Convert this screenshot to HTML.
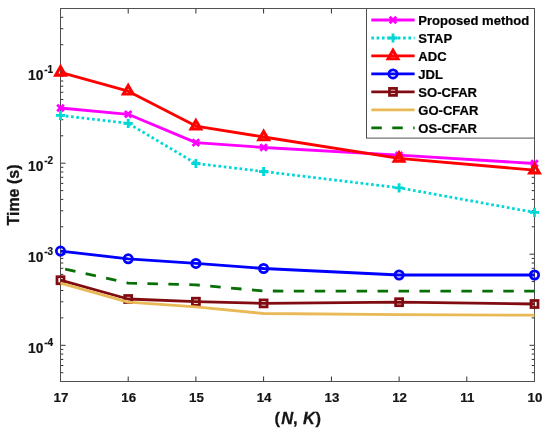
<!DOCTYPE html>
<html><head><meta charset="utf-8"><title>Time vs (N, K)</title>
<style>html,body{margin:0;padding:0;background:#fff}svg{display:block}</style></head>
<body>
<svg width="550" height="435" viewBox="0 0 550 435" font-family="'Liberation Sans', sans-serif" font-weight="bold" fill="#141414" stroke="#141414" stroke-width="0">
<rect width="550" height="435" fill="#fff"/>
<path d="M534.5 381.5v-5M534.5 8.5v5M466.8 381.5v-5M466.8 8.5v5M399.1 381.5v-5M399.1 8.5v5M331.4 381.5v-5M331.4 8.5v5M263.6 381.5v-5M263.6 8.5v5M195.9 381.5v-5M195.9 8.5v5M128.2 381.5v-5M128.2 8.5v5M60.5 381.5v-5M60.5 8.5v5M60.5 345.3h5M534.5 345.3h-5M60.5 254.2h5M534.5 254.2h-5M60.5 163.2h5M534.5 163.2h-5M60.5 72.1h5M534.5 72.1h-5M60.5 372.7h2.8M534.5 372.7h-2.8M60.5 365.5h2.8M534.5 365.5h-2.8M60.5 359.4h2.8M534.5 359.4h-2.8M60.5 354.1h2.8M534.5 354.1h-2.8M60.5 349.4h2.8M534.5 349.4h-2.8M60.5 317.9h2.8M534.5 317.9h-2.8M60.5 301.8h2.8M534.5 301.8h-2.8M60.5 290.5h2.8M534.5 290.5h-2.8M60.5 281.6h2.8M534.5 281.6h-2.8M60.5 274.4h2.8M534.5 274.4h-2.8M60.5 268.3h2.8M534.5 268.3h-2.8M60.5 263.0h2.8M534.5 263.0h-2.8M60.5 258.4h2.8M534.5 258.4h-2.8M60.5 226.8h2.8M534.5 226.8h-2.8M60.5 210.8h2.8M534.5 210.8h-2.8M60.5 199.4h2.8M534.5 199.4h-2.8M60.5 190.6h2.8M534.5 190.6h-2.8M60.5 183.4h2.8M534.5 183.4h-2.8M60.5 177.3h2.8M534.5 177.3h-2.8M60.5 172.0h2.8M534.5 172.0h-2.8M60.5 167.3h2.8M534.5 167.3h-2.8M60.5 135.8h2.8M534.5 135.8h-2.8M60.5 119.7h2.8M534.5 119.7h-2.8M60.5 108.4h2.8M534.5 108.4h-2.8M60.5 99.5h2.8M534.5 99.5h-2.8M60.5 92.3h2.8M534.5 92.3h-2.8M60.5 86.2h2.8M534.5 86.2h-2.8M60.5 81.0h2.8M534.5 81.0h-2.8M60.5 76.3h2.8M534.5 76.3h-2.8M60.5 44.7h2.8M534.5 44.7h-2.8M60.5 28.7h2.8M534.5 28.7h-2.8M60.5 17.3h2.8M534.5 17.3h-2.8" stroke="#303030" stroke-width="1" fill="none"/>
<rect x="60.5" y="8.5" width="474.0" height="373.0" fill="none" stroke="#505050" stroke-width="1"/>
<polyline points="60.5,108.0 128.2,114.3 195.9,142.6 263.6,147.5 399.1,155.2 534.5,163.5" fill="none" stroke="#ff00ff" stroke-width="2.8" stroke-linejoin="round"/>
<path d="M57.2 104.7L63.8 111.3M57.2 111.3L63.8 104.7" stroke="#ff00ff" stroke-width="2.8" fill="none"/>
<path d="M124.9 111.0L131.5 117.6M124.9 117.6L131.5 111.0" stroke="#ff00ff" stroke-width="2.8" fill="none"/>
<path d="M192.6 139.3L199.2 145.9M192.6 145.9L199.2 139.3" stroke="#ff00ff" stroke-width="2.8" fill="none"/>
<path d="M260.3 144.2L266.9 150.8M260.3 150.8L266.9 144.2" stroke="#ff00ff" stroke-width="2.8" fill="none"/>
<path d="M395.8 151.9L402.4 158.5M395.8 158.5L402.4 151.9" stroke="#ff00ff" stroke-width="2.8" fill="none"/>
<path d="M531.2 160.2L537.8 166.8M531.2 166.8L537.8 160.2" stroke="#ff00ff" stroke-width="2.8" fill="none"/>
<polyline points="60.5,115.4 128.2,123.3 195.9,163.5 263.6,171.5 399.1,187.8 534.5,212.4" fill="none" stroke="#00d8d8" stroke-width="2.8" stroke-linejoin="round" stroke-dasharray="2.65 2.65"/>
<path d="M55.9 115.4H65.1M60.5 110.8V120.0" stroke="#00d8d8" stroke-width="2.8" fill="none"/>
<path d="M123.6 123.3H132.8M128.2 118.7V127.9" stroke="#00d8d8" stroke-width="2.8" fill="none"/>
<path d="M191.3 163.5H200.5M195.9 158.9V168.1" stroke="#00d8d8" stroke-width="2.8" fill="none"/>
<path d="M259.0 171.5H268.2M263.6 166.9V176.1" stroke="#00d8d8" stroke-width="2.8" fill="none"/>
<path d="M394.5 187.8H403.7M399.1 183.2V192.4" stroke="#00d8d8" stroke-width="2.8" fill="none"/>
<path d="M529.9 212.4H539.1M534.5 207.8V217.0" stroke="#00d8d8" stroke-width="2.8" fill="none"/>
<polyline points="60.5,72.3 128.2,91.2 195.9,126.1 263.6,137.0 399.1,158.4 534.5,170.1" fill="none" stroke="#ff0000" stroke-width="2.8" stroke-linejoin="round"/>
<polygon points="60.5,66.7 55.7,75.1 65.3,75.1" fill="none" stroke="#ff0000" stroke-width="3.1"/>
<polygon points="128.2,85.6 123.4,94.0 133.1,94.0" fill="none" stroke="#ff0000" stroke-width="3.1"/>
<polygon points="195.9,120.5 191.1,128.9 200.8,128.9" fill="none" stroke="#ff0000" stroke-width="3.1"/>
<polygon points="263.6,131.4 258.8,139.8 268.5,139.8" fill="none" stroke="#ff0000" stroke-width="3.1"/>
<polygon points="399.1,152.8 394.2,161.2 403.9,161.2" fill="none" stroke="#ff0000" stroke-width="3.1"/>
<polygon points="534.5,164.5 529.7,172.9 539.3,172.9" fill="none" stroke="#ff0000" stroke-width="3.1"/>
<polyline points="60.5,251.1 128.2,258.8 195.9,263.4 263.6,268.5 399.1,275.0 534.5,275.0" fill="none" stroke="#0000ff" stroke-width="2.8" stroke-linejoin="round"/>
<circle cx="60.5" cy="251.1" r="4.15" fill="none" stroke="#0000ff" stroke-width="2.75"/>
<circle cx="128.2" cy="258.8" r="4.15" fill="none" stroke="#0000ff" stroke-width="2.75"/>
<circle cx="195.9" cy="263.4" r="4.15" fill="none" stroke="#0000ff" stroke-width="2.75"/>
<circle cx="263.6" cy="268.5" r="4.15" fill="none" stroke="#0000ff" stroke-width="2.75"/>
<circle cx="399.1" cy="275.0" r="4.15" fill="none" stroke="#0000ff" stroke-width="2.75"/>
<circle cx="534.5" cy="275.0" r="4.15" fill="none" stroke="#0000ff" stroke-width="2.75"/>
<polyline points="60.5,280.2 128.2,299.0 195.9,301.7 263.6,303.4 399.1,302.2 534.5,304.0" fill="none" stroke="#800c12" stroke-width="2.8" stroke-linejoin="round"/>
<rect x="57.0" y="276.7" width="7" height="7" fill="none" stroke="#800c12" stroke-width="2.75"/>
<rect x="124.7" y="295.5" width="7" height="7" fill="none" stroke="#800c12" stroke-width="2.75"/>
<rect x="192.4" y="298.2" width="7" height="7" fill="none" stroke="#800c12" stroke-width="2.75"/>
<rect x="260.1" y="299.9" width="7" height="7" fill="none" stroke="#800c12" stroke-width="2.75"/>
<rect x="395.6" y="298.7" width="7" height="7" fill="none" stroke="#800c12" stroke-width="2.75"/>
<rect x="531.0" y="300.5" width="7" height="7" fill="none" stroke="#800c12" stroke-width="2.75"/>
<polyline points="60.5,283.2 128.2,302.2 195.9,306.9 263.6,313.5 399.1,314.7 534.5,315.2" fill="none" stroke="#e8b955" stroke-width="2.8" stroke-linejoin="round"/>
<polyline points="60.5,268.0 128.2,283.1 195.9,284.9 263.6,291.0 399.1,291.2 534.5,291.2" fill="none" stroke="#067006" stroke-width="2.8" stroke-linejoin="round" stroke-dasharray="10.5 10.45" stroke-dashoffset="16.15"/>
<text x="535.0" y="401.6" font-size="13.3" text-anchor="middle" stroke-width="0.2">10</text>
<text x="467.3" y="401.6" font-size="13.3" text-anchor="middle" stroke-width="0.2">11</text>
<text x="399.6" y="401.6" font-size="13.3" text-anchor="middle" stroke-width="0.2">12</text>
<text x="331.9" y="401.6" font-size="13.3" text-anchor="middle" stroke-width="0.2">13</text>
<text x="264.1" y="401.6" font-size="13.3" text-anchor="middle" stroke-width="0.2">14</text>
<text x="196.4" y="401.6" font-size="13.3" text-anchor="middle" stroke-width="0.2">15</text>
<text x="128.7" y="401.6" font-size="13.3" text-anchor="middle" stroke-width="0.2">16</text>
<text x="61.0" y="401.6" font-size="13.3" text-anchor="middle" stroke-width="0.2">17</text>
<text x="28.1" y="353.0" font-size="13.8" stroke-width="0.2">10<tspan font-size="10" dx="0.7" dy="-6.6">-4</tspan></text>
<text x="28.1" y="261.9" font-size="13.8" stroke-width="0.2">10<tspan font-size="10" dx="0.7" dy="-6.6">-3</tspan></text>
<text x="28.1" y="170.9" font-size="13.8" stroke-width="0.2">10<tspan font-size="10" dx="0.7" dy="-6.6">-2</tspan></text>
<text x="28.1" y="79.8" font-size="13.8" stroke-width="0.2">10<tspan font-size="10" dx="0.7" dy="-6.6">-1</tspan></text>
<text x="274.4" y="424" font-size="16.5" stroke="#1a1a1a" stroke-width="0.3">(<tspan font-style="italic" dx="1.3">N</tspan>, <tspan font-style="italic" dx="0.6">K</tspan><tspan dx="0.6">)</tspan></text>
<text transform="translate(18.9,195) rotate(-90)" font-size="16" text-anchor="middle" stroke="#1a1a1a" stroke-width="0.3">Time (s)</text>
<rect x="366.5" y="8.5" width="168.0" height="129.6" fill="#fff" stroke="#505050" stroke-width="1"/>
<path d="M371.3 20.0H414.6" stroke="#ff00ff" stroke-width="2.8" fill="none"/>
<path d="M389.7 16.7L396.3 23.3M389.7 23.3L396.3 16.7" stroke="#ff00ff" stroke-width="2.8" fill="none"/>
<text x="418.3" y="25.0" font-size="13.05" fill="#000" stroke="#000" stroke-width="0.2">Proposed method</text>
<path d="M371.3 38.0H414.6" stroke="#00d8d8" stroke-width="2.8" fill="none" stroke-dasharray="2.65 2.65"/>
<path d="M388.4 38.0H397.6M393.0 33.4V42.6" stroke="#00d8d8" stroke-width="2.8" fill="none"/>
<text x="418.3" y="43.0" font-size="13.05" fill="#000" stroke="#000" stroke-width="0.2">STAP</text>
<path d="M371.3 55.9H414.6" stroke="#ff0000" stroke-width="2.8" fill="none"/>
<polygon points="393.0,50.3 388.2,58.7 397.8,58.7" fill="none" stroke="#ff0000" stroke-width="3.1"/>
<text x="418.3" y="60.9" font-size="13.05" fill="#000" stroke="#000" stroke-width="0.2">ADC</text>
<path d="M371.3 73.9H414.6" stroke="#0000ff" stroke-width="2.8" fill="none"/>
<circle cx="393.0" cy="73.9" r="4.15" fill="none" stroke="#0000ff" stroke-width="2.75"/>
<text x="418.3" y="78.9" font-size="13.05" fill="#000" stroke="#000" stroke-width="0.2">JDL</text>
<path d="M371.3 91.9H414.6" stroke="#800c12" stroke-width="2.8" fill="none"/>
<rect x="389.5" y="88.4" width="7" height="7" fill="none" stroke="#800c12" stroke-width="2.75"/>
<text x="418.3" y="96.9" font-size="13.05" fill="#000" stroke="#000" stroke-width="0.2">SO-CFAR</text>
<path d="M371.3 109.8H414.6" stroke="#e8b955" stroke-width="2.8" fill="none"/>
<text x="418.3" y="114.8" font-size="13.05" fill="#000" stroke="#000" stroke-width="0.2">GO-CFAR</text>
<path d="M371.3 127.8H414.6" stroke="#067006" stroke-width="2.8" fill="none" stroke-dasharray="10.5 10.45"/>
<text x="418.3" y="132.8" font-size="13.05" fill="#000" stroke="#000" stroke-width="0.2">OS-CFAR</text>
</svg>
</body></html>
